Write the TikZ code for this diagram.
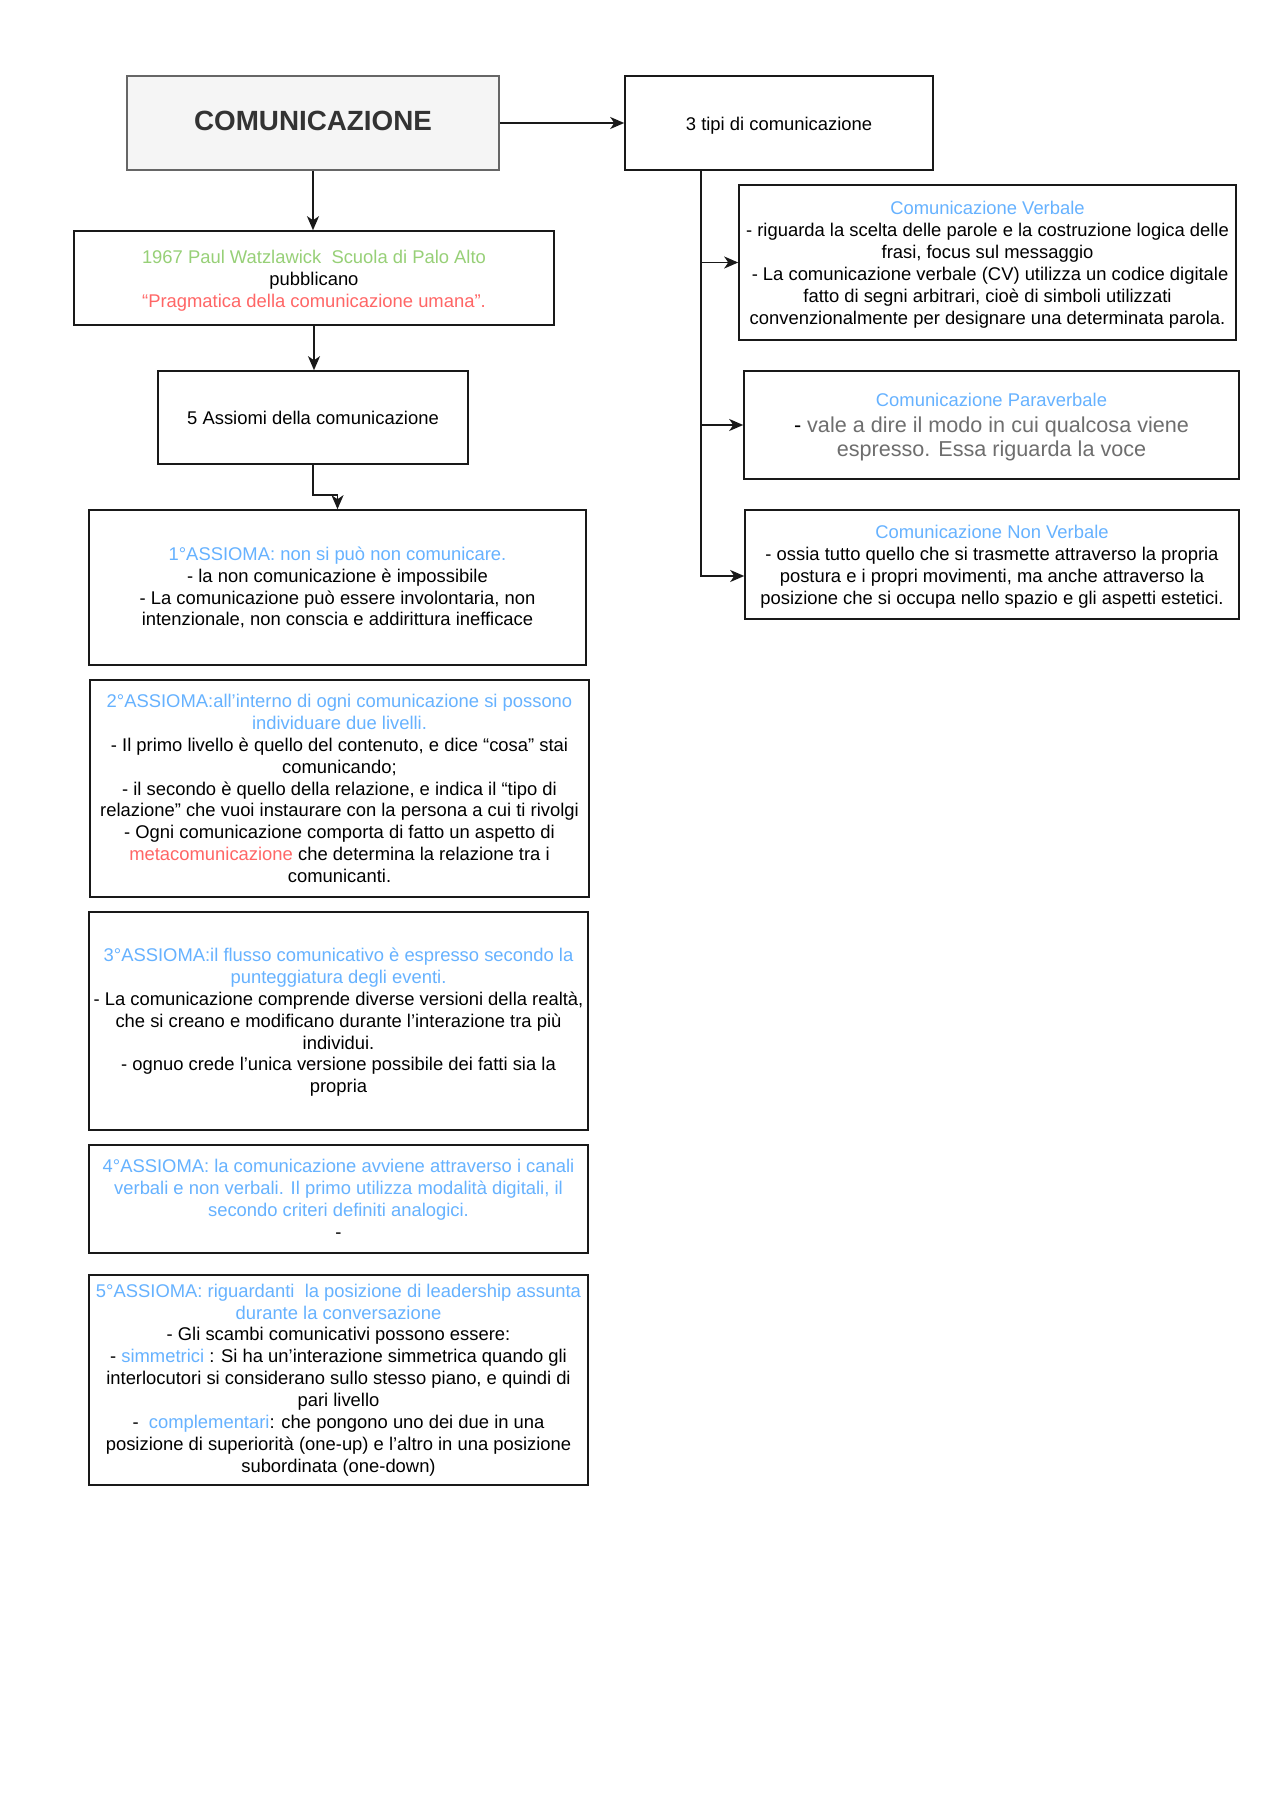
\documentclass[tikz,border=0pt]{standalone}
\usepackage{fontspec}
\setmainfont{Liberation Sans}
\usetikzlibrary{arrows.meta,calc}
\definecolor{cblue}{HTML}{66B2FF}
\definecolor{cgreen}{HTML}{97D077}
\definecolor{cred}{HTML}{FF6666}
\definecolor{cgray}{HTML}{6E6E6E}
\definecolor{cdark}{HTML}{333333}
\newcommand{\bigtxt}{\fontsize{10.8}{12.7}\selectfont}
\newcommand{\tshift}[2]{\raisebox{#1}[\height][\depth]{\begin{tabular}{@{}c@{}}#2\end{tabular}}}
\begin{document}
\begin{tikzpicture}[x=0.5pt,y=-0.5pt,
  box/.style={draw=black!90, line width=0.8pt, rectangle, align=center, inner sep=0pt,
     font=\fontsize{9.2}{10.95}\selectfont},
  conn/.style={line width=0.8pt, draw=black!90, -{Stealth[length=7pt,width=6pt,inset=2pt]}},
]
\useasboundingbox (0,0) rectangle (1280,1809);
\fill[white] (0,0) rectangle (1280,1809);

\node[box, draw=black!60, fill=black!4, minimum width=186pt, minimum height=47pt,
  font=\fontsize{13.9}{16}\selectfont\bfseries, text=cdark] (com) at (313,123)
  {\raisebox{1.2pt}[\height][\depth]{COMUNICAZIONE}};

\node[box, minimum width=154pt, minimum height=47pt] (tipi) at (779,123)
  {\raisebox{-1.2pt}[\height][\depth]{3 tipi di comunicazione}};

\node[box, minimum width=240pt, minimum height=47pt] (pw) at (314,278)
  {\tshift{-1.7pt}{\textcolor{cgreen}{1967 Paul Watzlawick\ \ Scuola di Palo Alto}\\
   pubblicano\\
   \textcolor{cred}{“Pragmatica della comunicazione umana”.}}};

\node[box, minimum width=155pt, minimum height=46.5pt] (ass) at (313,417.5) {5 Assiomi della comunicazione};

\node[box, minimum width=248.5pt, minimum height=77.5pt] (a1) at (337.5,587.5)
  {\textcolor{cblue}{1°ASSIOMA: non si può non comunicare.}\\
   - la non comunicazione è impossibile\\
   - La comunicazione può essere involontaria, non\\
   intenzionale, non conscia e addirittura inefficace};

\node[box, minimum width=249.5pt, minimum height=108.5pt] (a2) at (339.5,788.5)
  {\textcolor{cblue}{2°ASSIOMA:all’interno di ogni comunicazione si possono}\\
   \textcolor{cblue}{individuare due livelli.}\\
   - Il primo livello è quello del contenuto, e dice “cosa” stai\\
   comunicando;\\
   - il secondo è quello della relazione, e indica il “tipo di\\
   relazione” che vuoi instaurare con la persona a cui ti rivolgi\\
   - Ogni comunicazione comporta di fatto un aspetto di\\
   \textcolor{cred}{metacomunicazione} che determina la relazione tra i\\
   comunicanti.};

\node[box, minimum width=249.5pt, minimum height=109pt] (a3) at (338.5,1021)
  {\tshift{-0.9pt}{\textcolor{cblue}{3°ASSIOMA:il flusso comunicativo è espresso secondo la}\\
   \textcolor{cblue}{punteggiatura degli eventi.}\\
   - La comunicazione comprende diverse versioni della realtà,\\
   che si creano e modificano durante l’interazione tra più\\
   individui.\\
   - ognuo crede l’unica versione possibile dei fatti sia la\\
   propria}};

\node[box, minimum width=249.5pt, minimum height=54pt] (a4) at (338.5,1199)
  {\textcolor{cblue}{4°ASSIOMA: la comunicazione avviene attraverso i canali}\\
   \textcolor{cblue}{verbali e non verbali. Il primo utilizza modalità digitali, il}\\
   \textcolor{cblue}{secondo criteri definiti analogici.}\\
   -};

\node[box, minimum width=249.5pt, minimum height=105pt] (a5) at (338.5,1380)
  {\textcolor{cblue}{5°ASSIOMA: riguardanti\ \ la posizione di leadership assunta}\\
   \textcolor{cblue}{durante la conversazione}\\
   - Gli scambi comunicativi possono essere:\\
   - \textcolor{cblue}{simmetrici} : Si ha un’interazione simmetrica quando gli\\
   interlocutori si considerano sullo stesso piano, e quindi di\\
   pari livello\\
   -\ \ \textcolor{cblue}{complementari}: che pongono uno dei due in una\\
   posizione di superiorità (one-up) e l’altro in una posizione\\
   subordinata (one-down)};

\node[box, minimum width=248.5pt, minimum height=77.5pt] (ver) at (987.5,262.5)
  {\tshift{-1.2pt}{\textcolor{cblue}{Comunicazione Verbale}\\
   - riguarda la scelta delle parole e la costruzione logica delle\\
   frasi, focus sul messaggio\\
   \ - La comunicazione verbale (CV) utilizza un codice digitale\\
   fatto di segni arbitrari, cioè di simboli utilizzati\\
   convenzionalmente per designare una determinata parola.}};

\node[box, minimum width=247.5pt, minimum height=54pt] (par) at (991.5,425)
  {\rule{0pt}{9pt}\textcolor{cblue}{Comunicazione Paraverbale}\\[1.7pt]
   \bigtxt - \textcolor{cgray}{vale a dire il modo in cui qualcosa viene}\\[1.3pt]
   \bigtxt\textcolor{cgray}{espresso. Essa riguarda la voce}};

\node[box, minimum width=247pt, minimum height=54.5pt] (nv) at (992,564.5)
  {\tshift{-1.2pt}{\textcolor{cblue}{Comunicazione Non Verbale}\\
   - ossia tutto quello che si trasmette attraverso la propria\\
   postura e i propri movimenti, ma anche attraverso la\\
   posizione che si occupa nello spazio e gli aspetti estetici.}};

% connectors
\draw[conn] (com.east) -- (tipi.west);
\draw[conn] (com.south) -- (com.south |- pw.north);
\draw[conn] (pw.south) -- (pw.south |- ass.north);
\draw[conn] (ass.south) -- ++(0,30) -| (a1.north);

\coordinate (trunk) at ($(tipi.south west)+(77,0)$);
\coordinate (nvin) at ($(nv.west)+(0,11.5)$);
\draw[conn] (trunk) |- (ver.west);
\draw[conn] (trunk) |- (par.west);
\draw[conn] (trunk) |- (nvin);
\end{tikzpicture}
\end{document}
